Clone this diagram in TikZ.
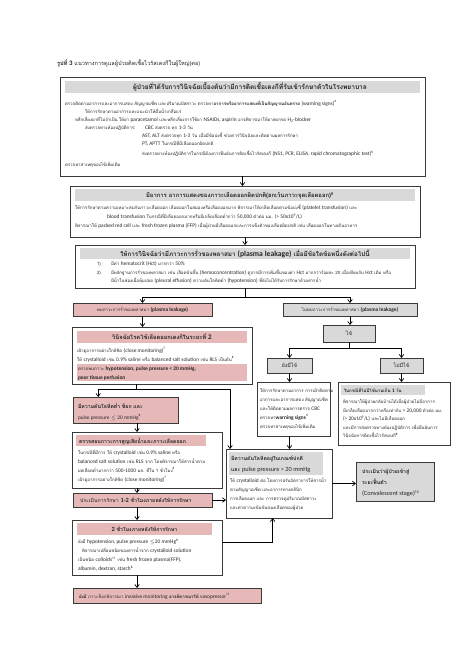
\documentclass[tikz,border=0pt]{standalone}
\usepackage{fontspec}
\setmainfont[Script=Thai]{Loma}
\newfontfamily\carl[Scale=1.22]{Carlito}
\newcommand\la[1]{{\carl #1}}
\newcommand\sups[1]{\textsuperscript{#1}}
\usetikzlibrary{arrows.meta,calc}
\definecolor{bd}{HTML}{3A3A3A}
\definecolor{pk}{HTML}{E6B9B8}
\definecolor{gb}{HTML}{D9D9D9}
\definecolor{tx}{HTML}{262626}
\newcommand\bfs{\fontsize{4.4}{5}\selectfont}
\newcommand\hfs{\fontsize{6.6}{7}\selectfont\bfseries}
\newcommand\mfs{\fontsize{5.2}{6}\selectfont}
\tikzset{
  box/.style={draw=bd, line width=0.8pt, inner sep=0pt, outer sep=0pt, anchor=north west},
  pbox/.style={box, fill=pk},
  gbox/.style={box, fill=gb},
  band/.style={inner sep=0pt, outer sep=0pt, anchor=north west, draw=none},
  txt/.style={inner sep=0pt, outer sep=0pt, anchor=base west, font=\bfs, text=tx},
  ctxt/.style={txt, anchor=base},
  arr/.style={-{Straight Barb[length=3pt,width=4.5pt]}, line width=0.7pt, draw=black},
  ln/.style={line width=0.7pt, draw=black},
}
\newcommand\tl[4]{\node[txt] (#1) at (#2,#3) {#4};}
\newcommand\tc[4]{\node[ctxt] (#1) at (#2,#3) {#4};}
\begin{document}
\begin{tikzpicture}[x=1pt,y=-1pt]
\useasboundingbox (0,0) rectangle (474,670);
\fill[white] (0,0) rectangle (474,670);

% title
\node[txt, font=\fontsize{5.6}{6}\selectfont] (title) at (57,65) {\textbf{รูปที่ \la{3}} แนวทางการดูแลผู้ป่วยติดเชื้อไวรัสเดงกีในผู้ใหญ่(ต่อ)};

% ---------- top box
\node[box, line width=1pt, minimum width=365pt, minimum height=99pt] (top) at (60,77) {};
\node[band, fill=gb, minimum width=355pt, minimum height=12pt] (topb) at (65,81) {};
\node[ctxt, font=\hfs] (toph) at (250,89.8) {ผู้ป่วยที่ได้รับการวินิจฉัยเบื้องต้นว่ามีการติดเชื้อเดงกีที่รับเข้ารักษาตัวในโรงพยาบาล};
\tl{t1}{65}{105}{ตรวจติดตามอาการและอาการแสดง สัญญาณชีพ และปริมาณปัสสาวะ  ตรวจหา\textbf{อาการหรืออาการแสดงที่เป็นสัญญาณอันตราย} \la{(warning signs)}\sups{4}}
\tl{t2}{85}{113.5}{ให้การรักษาตามอาการและแนะนำให้ดื่มน้ำเกลือแร่}
\tl{t3}{75}{121.5}{หลีกเลี่ยงยาที่ไม่จำเป็น ให้ยา \la{paracetamol} และหลีกเลี่ยงการใช้ยา \la{NSAIDs, aspirin} อาจพิจารณาให้ยาลดกรด \la{H\textsubscript{2}-blocker}}
\tl{t4}{85}{129.5}{ส่งตรวจทางห้องปฏิบัติการ:}
\tl{t4b}{145}{129.5}{\la{CBC} ส่งตรวจ ทุก \la{1-3} วัน}
\tl{t5}{142}{137.5}{\la{AST, ALT} ส่งตรวจทุก \la{1-3} วัน เมื่อมีข้อบ่งชี้ ช่วยการวินิจฉัยและติดตามผลการรักษา}
\tl{t6}{142}{145.5}{\la{PT, APTT} ในกรณีที่มีเลือดออกผิดปกติ}
\tl{t7}{142}{155.5}{ส่งตรวจทางห้องปฏิบัติการในกรณีต้องการยืนยันการติดเชื้อไวรัสเดงกี \la{(NS1, PCR, ELISA, rapid chromatographic test)}\sups{5}}
\tl{t8}{65}{166}{ตรวจหาสาเหตุของไข้เพิ่มเติม}

% ---------- second box
\node[box, minimum width=350pt, minimum height=51pt] (sec) at (70,186) {};
\node[band, fill=gb, minimum width=340pt, minimum height=12pt] (secb) at (75,189) {};
\node[ctxt, font=\fontsize{5.9}{6}\selectfont\bfseries] (sech) at (240,197.7) {มีอาการ อาการแสดงของภาวะเลือดออกผิดปกติ(ยกเว้นภาวะจุดเลือดออก)\sups{6}};
\tl{s1}{75}{209.5}{ให้การรักษาตามความเหมาะสมกับภาวะเลือดออก เลือดออกในสมองหรือเลือดออกมาก พิจารณาให้เกล็ดเลือดตามข้อบ่งชี้ \la{(platelet transfusion)} และ}
\tl{s2}{107}{218.5}{\la{blood transfusion} ในกรณีที่มีเลือดออกมากหรือมีเกล็ดเลือดต่ำกว่า \la{50,000} ตัวต่อ มม. \la{(> 50x10\sups{9}/L)}}
\tl{s3}{75}{227.5}{พิจารณาให้ \la{packed red cell} และ \la{fresh frozen plasma (FFP)} เมื่อผู้ป่วยมีเลือดออกและการแข็งตัวของเลือดผิดปกติ เช่น เลือดออกในทางเดินอาหาร}

% ---------- third box
\node[box, minimum width=340pt, minimum height=43pt] (thr) at (75,245) {};
\node[band, fill=gb, minimum width=330pt, minimum height=11pt] (thrb) at (80,248) {};
\node[ctxt, font=\fontsize{6.3}{7}\selectfont\bfseries] (thrh) at (245,256.7) {ให้การวินิจฉัยว่ามีภาวะการรั่วของพลาสมา \la{(plasma leakage)} เมื่อมีข้อใดข้อหนึ่งดังต่อไปนี้};
\tl{r1n}{97}{265.5}{1)}
\tl{r1}{111}{265.5}{มีค่า \la{hematocrit (Hct)} มากกว่า \la{50\%}}
\tl{r2n}{97}{274}{2)}
\tl{r2}{111}{274}{มีหลักฐานการรั่วของพลาสมา เช่น เลือดข้นขึ้น \la{(hemoconcentration)} ดูจากมีการเพิ่มขึ้นของค่า \la{Hct} มากกว่าร้อยละ 20 เมื่อเทียบกับ \la{Hct} เดิม หรือ}
\tl{r3}{111}{282}{มีน้ำในช่องเยื่อหุ้มปอด \la{(pleural effusion)} ความดันโลหิตต่ำ \la{(hypotension)} ที่ยังไม่ได้รับการรักษาด้วยสารน้ำ}

% ---------- branch boxes
\node[pbox, minimum width=139pt, minimum height=13pt] (L1) at (73,303) {};
\tc{L1t}{142.5}{311.5}{พบภาวะการรั่วของพลาสมา \la{\textbf{(plasma leakage)}}}
\node[gbox, minimum width=134pt, minimum height=13pt] (R1) at (283,303) {};
\tc{R1t}{350}{311.5}{ไม่พบภาวะการรั่วของพลาสมา \la{\textbf{(plasma leakage)}}}

% ---------- big left box
\node[box, minimum width=180pt, minimum height=57pt] (big) at (72,327) {};
\node[band, fill=pk, minimum width=170pt, minimum height=12pt] (bigb) at (77,331) {};
\node[ctxt, font=\fontsize{5.8}{6}\selectfont\bfseries] (bigh) at (162,339.7) {วินิจฉัยโรคไข้เลือดออกเดงกีในระยะที่ \la{2}};
\tl{b1}{77}{352}{เฝ้าดูอาการอย่างใกล้ชิด \la{(close monitoring)}\sups{7}}
\tl{b2}{77}{361}{ให้ \la{crystalloid} เช่น \la{0.9\% saline} หรือ \la{balanced salt solution} เช่น \la{RLS} เป็นต้น\sups{8}}
\node[band, fill=pk, minimum width=170pt, minimum height=17pt] (bigb2) at (77,364) {};
\tl{b3}{78}{370.5}{ตรวจพบภาวะ \la{\textbf{hypotension, pulse pressure < 20 mmHg,}}}
\tl{b4}{78}{379}{\la{\textbf{poor tissue perfusion}}}

% ---------- left column
\node[pbox, minimum width=105pt, minimum height=26pt] (L2) at (73,397) {};
\node[txt, font=\mfs\bfseries] (L2a) at (78,408) {มีความดันโลหิตต่ำ ช็อก และ};
\tl{L2b}{78}{419}{\la{pulse pressure $\leq$ 20 mmHg}\sups{9}}

\node[box, minimum width=150pt, minimum height=56pt] (L3) at (72,432) {};
\node[band, fill=pk, minimum width=130pt, minimum height=11pt] (L3b) at (76,435) {};
\node[txt, font=\mfs\bfseries] (L3h) at (79,443) {ตรวจสอบภาวะการสูญเสียน้ำและภาวะเลือดออก};
\tl{c1}{78}{454}{ในกรณีที่มีการ ให้ \la{crystalloid} เช่น \la{0.9\% saline} หรือ}
\tl{c2}{78}{463}{\la{balanced salt solution} เช่น \la{RLS} จาก โดยพิจารณาให้สารน้ำตาม}
\tl{c3}{78}{472}{ผลเลือดต่ำมากกว่า \la{500-1000} มล. ที่ใน 1 ชั่วโมง\sups{8}}
\tl{c4}{78}{481}{เฝ้าดูอาการอย่างใกล้ชิด \la{(close monitoring)}\sups{7}}

\node[pbox, minimum width=139pt, minimum height=14pt] (L4) at (73,493) {};
\node[txt, font=\mfs] (L4t) at (80,502) {ประเมินการรักษา \textbf{\la{1-2} ชั่วโมงภายหลังให้การรักษา}};

\node[box, minimum width=150pt, minimum height=55pt] (L5) at (72,520) {};
\node[band, fill=pk, minimum width=135pt, minimum height=12pt] (L5b) at (77,523) {};
\node[ctxt, font=\mfs\bfseries] (L5h) at (144.5,531.5) {\la{2} ชั่วโมงภายหลังให้การรักษา};
\tl{d1}{78}{543.5}{ยังมี \la{hypotension, pulse pressure $\leq$20 mmHg}\sups{9}}
\tl{d2}{82}{552.5}{พิจารณาเปลี่ยนชนิดของสารน้ำจาก \la{crystalloid solution}}
\tl{d3}{78}{561.5}{เป็นชนิด \la{colloids}\sups{11} เช่น \la{fresh frozen plasma(FFP),}}
\tl{d4}{78}{570.5}{\la{albumin, dextran, starch}\sups{8}}

\node[pbox, minimum width=188pt, minimum height=15pt] (L6) at (73,588) {};
\tl{L6t}{79}{598}{\textbf{ยังมี} ภาวะช็อกพิจารณา \la{invasive monitoring} \textbf{อาจพิจารณาให้} \la{vasopressor}\sups{11}}

% ---------- right column
\node[gbox, minimum width=52pt, minimum height=17pt] (fev) at (323,325) {};
\node[ctxt, font=\mfs] (fevt) at (349,335.5) {ไข้};
\node[gbox, minimum width=45pt, minimum height=15pt] (yes) at (267,358) {};
\node[ctxt, font=\mfs] (yest) at (289.5,367.5) {ยังมีไข้};
\node[gbox, minimum width=43pt, minimum height=15pt] (no) at (380,358) {};
\node[ctxt, font=\mfs] (not) at (401.5,367.5) {ไม่มีไข้};

\node[box, minimum width=73pt, minimum height=54pt] (yb) at (257,382) {};
\tl{y1}{260}{392}{ให้การรักษาตามอาการ การเฝ้าติดตาม}
\tl{y2}{260}{401}{อาการและอาการแสดง สัญญาณชีพ}
\tl{y3}{260}{410}{และให้ติดตามผลการตรวจ \la{CBC}}
\tl{y4}{260}{419}{ตรวจหา\la{\textbf{warning signs}}\sups{4}}
\tl{y5}{260}{428}{ตรวจหาสาเหตุของไข้เพิ่มเติม}

\node[box, minimum width=112pt, minimum height=63pt] (nb) at (338,382) {};
\node[band, fill=gb, minimum width=84pt, minimum height=10pt] (nbb) at (341,385) {};
\node[txt, font=\bfs\bfseries] (nbh) at (344,392.5) {ในกรณีที่ไม่มีไข้นานเกิน \la{1} วัน};
\tl{n1}{343}{403}{พิจารณาให้ผู้ป่วยกลับบ้านได้เมื่อผู้ป่วยไม่มีอาการ}
\tl{n2}{343}{412}{มีเกล็ดเลือดมากกว่าหรือเท่ากับ \la{> 20,000} ตัวต่อ มม.}
\tl{n3}{343}{420.5}{\la{(> 20x10\sups{9}/L)} และไม่มีเลือดออก}
\tl{n4}{343}{429}{และมีการส่งตรวจทางห้องปฏิบัติการ เพื่อยืนยันการ}
\tl{n5}{343}{437.5}{วินิจฉัยการติดเชื้อไวรัสเดงกี\sups{8}}

\node[box, minimum width=106pt, minimum height=69pt] (rb) at (226,449) {};
\node[band, fill=gb, minimum width=94pt, minimum height=23pt] (rbb) at (229,452) {};
\node[txt, font=\mfs\bfseries] (rbh1) at (231,460) {มีความดันโลหิตอยู่ในเกณฑ์ปกติ};
\node[txt, font=\mfs] (rbh2) at (231,471) {\textbf{และ} \la{pulse pressure > 20 mmHg}};
\tl{e1}{230}{482}{ให้ \la{crystalloid} ต่อ โดยการปรับอัตราการให้สารน้ำ}
\tl{e2}{230}{491}{ตามสัญญาณชีพ และอาการทางคลินิก}
\tl{e3}{230}{500}{การเลือดออก และ การตรวจดูปริมาณปัสสาวะ}
\tl{e4}{230}{509.5}{และค่าความเข้มข้นของเลือดของผู้ป่วย}

\node[gbox, minimum width=78pt, minimum height=39pt] (conv) at (356,462) {};
\node[txt, font=\mfs\bfseries] (cv1) at (362,473) {ประเมินว่าผู้ป่วยเข้าสู่};
\node[txt, font=\mfs\bfseries] (cv2) at (362,484) {ระยะฟื้นตัว};
\node[txt, font=\mfs] (cv3) at (362,495.5) {\la{(Convalescent stage)}\sups{10}};

% ---------- connectors
\draw[arr] (top.south) -- (top.south |- sec.north);
\draw[arr] (sec.south) -- (sec.south |- thr.north);
\coordinate (j1) at ($(thr.south)+(0,9)$);
\draw[ln] (thr.south) -- (j1);
\draw[arr] (j1) -| (L1.north);
\draw[arr] (j1) -| (R1.north);
\draw[arr] (L1.south) -- (L1.south |- big.north);
\coordinate (bo) at ($(big.south west)!0.36!(big.south east)$);
\coordinate (j2) at ($(bo)+(0,5)$);
\coordinate (p2) at ($(L2.north west)!0.24!(L2.north east)$);
\coordinate (p3) at ($(rb.north west)+(4,0)$);
\draw[ln] (bo) -- (j2);
\draw[ln] (j2 -| p2) -- (j2 -| p3);
\draw[arr] (j2 -| p2) -- (p2);
\draw[arr] (j2 -| p3) -- (p3);
\coordinate (q2) at ($(L2.south west)!0.61!(L2.south east)$);
\draw[arr] (q2) -- (q2 |- L3.north);
\draw[arr] (q2 |- L3.south) -- (q2 |- L4.north);
\draw[arr] (L4.east) -- (L4.east -| rb.west);
\draw[arr] (q2 |- L4.south) -- (q2 |- L5.north);
\draw[arr] (q2 |- L5.south) -- (q2 |- L6.north);
\coordinate (q5) at ($(L5.north east)!0.4!(L5.south east)$);
\coordinate (q6) at ($(rb.south west)!0.44!(rb.south east)$);
\draw[arr] (q5) -| (q6);
\draw[arr] (R1.south) -- (R1.south |- fev.north);
\coordinate (j3) at ($(fev.south)+(0,6)$);
\draw[ln] (fev.south) -- (j3);
\draw[arr] (j3) -| (yes.north);
\draw[arr] (j3) -| (no.north);
\draw[arr] (yes.south) -- (yes.south |- yb.north);
\draw[arr] (no.south) -- (no.south |- nb.north);
\draw[arr] (yes.south |- yb.south) -- (yes.south |- rb.north);
\draw[arr] (rb.east) -- (rb.east -| conv.west);
\end{tikzpicture}
\end{document}
